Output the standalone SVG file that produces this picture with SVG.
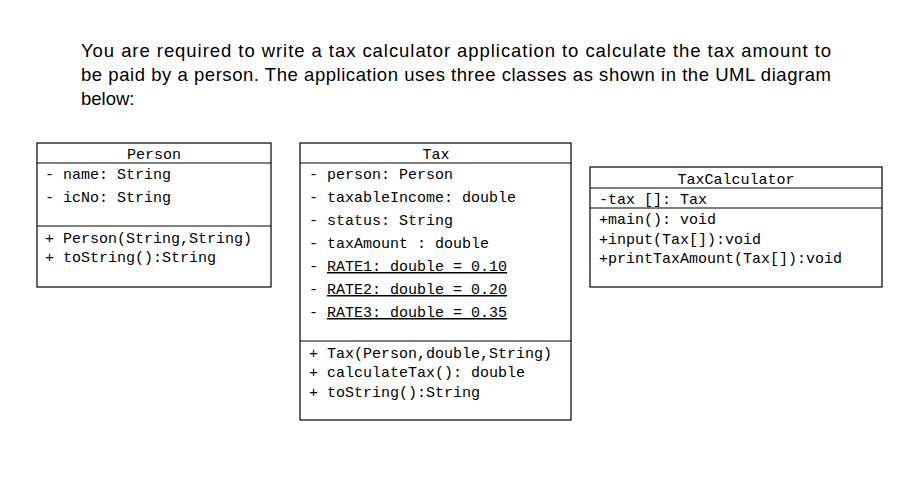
<svg xmlns="http://www.w3.org/2000/svg" width="906" height="488" viewBox="0 0 906 488">
<style>
.box{fill:#fff;stroke:#000;stroke-width:1.2}
.ln{stroke:#000;stroke-width:1.2}
.m{font-family:"Liberation Mono","DejaVu Sans Mono",monospace;font-size:15px;fill:#000}
.p{font-family:"Liberation Sans",Arial,sans-serif;font-size:18.5px;fill:#000}
.u{text-decoration:underline}
</style>
<rect width="906" height="488" fill="#fff"/>
<g id="intro">
<text class="p" x="81" y="57" textLength="750" lengthAdjust="spacing">You are required to write a tax calculator application to calculate the tax amount to</text>
<text class="p" x="81" y="81" textLength="750" lengthAdjust="spacing">be paid by a person. The application uses three classes as shown in the UML diagram</text>
<text class="p" x="81" y="105">below:</text>
</g>
<g id="Person">
<rect class="box" x="37" y="143" width="234" height="144"/>
<line class="ln" x1="37" y1="163" x2="271" y2="163"/>
<line class="ln" x1="37" y1="226" x2="271" y2="226"/>
<text class="m" x="154" y="159" text-anchor="middle">Person</text>
<text class="m" x="45" y="179">- name: String</text>
<text class="m" x="45" y="202">- icNo: String</text>
<text class="m" x="45" y="243">+ Person(String,String)</text>
<text class="m" x="45" y="262">+ toString():String</text>
</g>
<g id="Tax">
<rect class="box" x="300" y="143" width="271" height="277"/>
<line class="ln" x1="300" y1="163" x2="571" y2="163"/>
<line class="ln" x1="300" y1="341" x2="571" y2="341"/>
<text class="m" x="436" y="159" text-anchor="middle">Tax</text>
<text class="m" x="309" y="179">- person: Person</text>
<text class="m" x="309" y="202">- taxableIncome: double</text>
<text class="m" x="309" y="225">- status: String</text>
<text class="m" x="309" y="248">- taxAmount : double</text>
<text class="m" x="309" y="271">- <tspan class="u">RATE1: double = 0.10</tspan></text>
<text class="m" x="309" y="294">- <tspan class="u">RATE2: double = 0.20</tspan></text>
<text class="m" x="309" y="317">- <tspan class="u">RATE3: double = 0.35</tspan></text>
<text class="m" x="309" y="358">+ Tax(Person,double,String)</text>
<text class="m" x="309" y="377">+ calculateTax(): double</text>
<text class="m" x="309" y="397">+ toString():String</text>
</g>
<g id="TaxCalculator">
<rect class="box" x="590" y="167" width="292" height="120"/>
<line class="ln" x1="590" y1="188" x2="882" y2="188"/>
<line class="ln" x1="590" y1="208" x2="882" y2="208"/>
<text class="m" x="736" y="184" text-anchor="middle">TaxCalculator</text>
<text class="m" x="599" y="204">-tax []: Tax</text>
<text class="m" x="599" y="224">+main(): void</text>
<text class="m" x="599" y="244">+input(Tax[]):void</text>
<text class="m" x="599" y="263">+printTaxAmount(Tax[]):void</text>
</g>
<g id="connectors"></g>
</svg>
